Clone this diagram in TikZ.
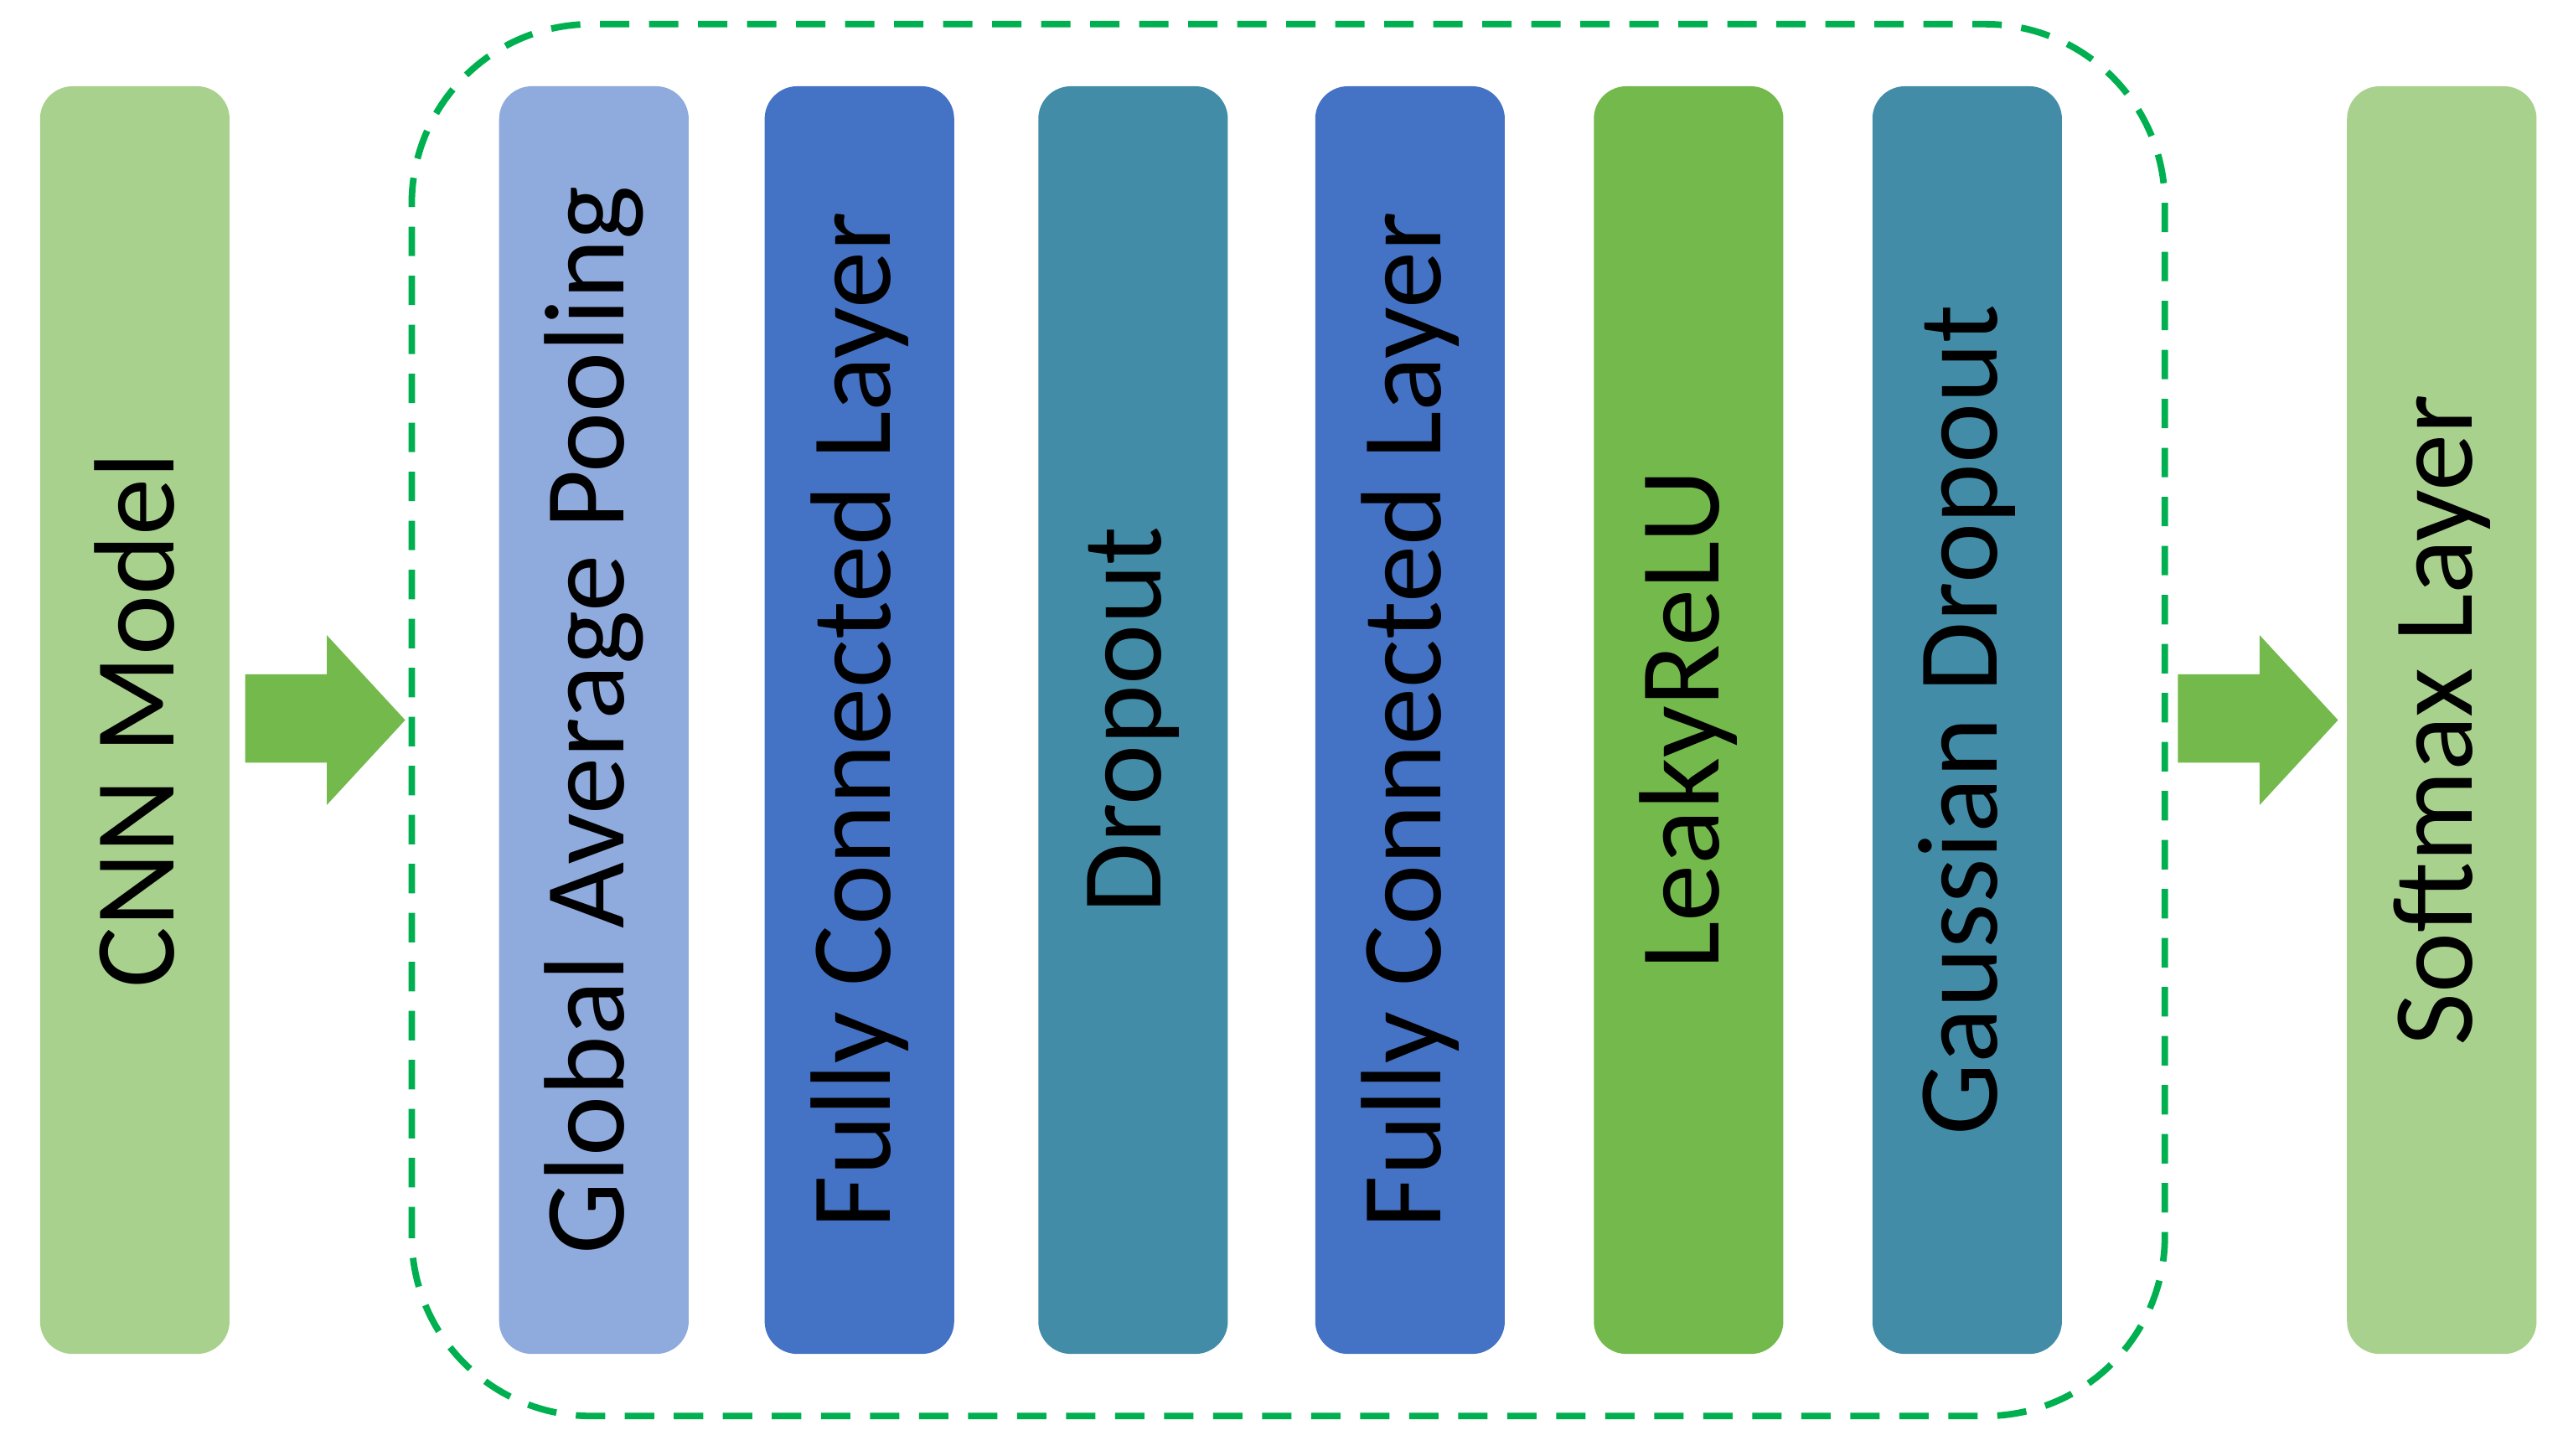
\documentclass[tikz,border=0pt]{standalone}
\usepackage{fontspec}
\setmainfont{Carlito}
\definecolor{lgreen}{HTML}{A9D18E}
\definecolor{lblue}{HTML}{8FAADC}
\definecolor{dblue}{HTML}{4472C4}
\definecolor{tealc}{HTML}{428CA8}
\definecolor{mgreen}{HTML}{74B94B}
\definecolor{dashgreen}{HTML}{00B050}
\tikzset{layer/.style={fill=#1, rounded corners=20pt, minimum width=116pt, minimum height=776pt, inner sep=0pt},
 lbl/.style={rotate=90, font=\fontsize{70}{70}\selectfont}}
\begin{document}
\begin{tikzpicture}[x=1pt,y=1pt]
\useasboundingbox (0,0) rectangle (1568.7,890.8);
\draw[dashgreen, line width=4pt, dash pattern=on 18pt off 12pt, rounded corners=110pt] (252,24) rectangle (1325,876);
\foreach \n/\x/\c/\t in {cnn/82.5/lgreen/CNN Model, gap/363.5/lblue/Global Average Pooling, fc1/526/dblue/Fully Connected Layer, dr/693.5/tealc/Dropout, fc2/863/dblue/Fully Connected Layer, lr/1033.5/mgreen/LeakyReLU, gd/1204/tealc/Gaussian Dropout, sm/1494.5/lgreen/Softmax Layer}{
 \node[layer=\c] (\n) at (\x,450) {};
 \node[lbl] at (\x,450) {\t};
}
\foreach \s in {150,1333}{
 \fill[mgreen] (\s,424) -- (\s+50,424) -- (\s+50,398) -- (\s+98,450) -- (\s+50,502) -- (\s+50,478) -- (\s,478) -- cycle;
}
\end{tikzpicture}
\end{document}
